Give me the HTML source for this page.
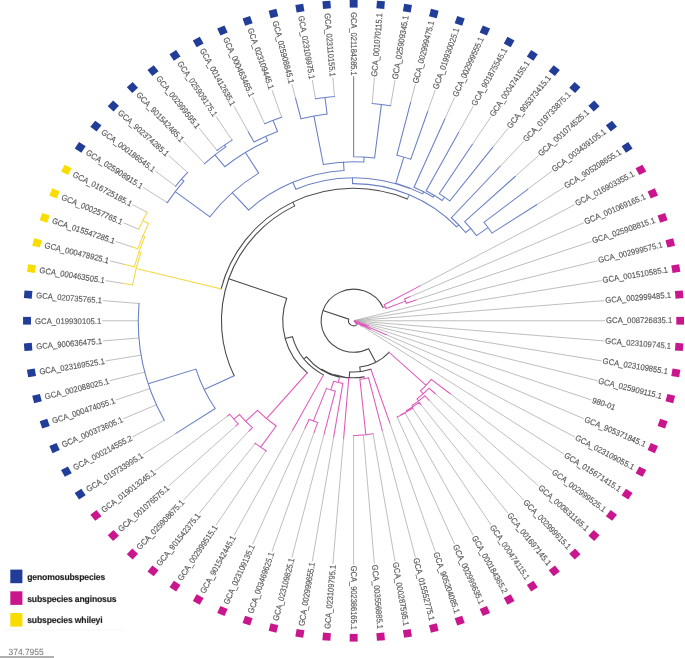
<!DOCTYPE html>
<html><head><meta charset="utf-8"><style>
html,body{margin:0;padding:0;background:#fff;}
body{width:685px;height:658px;overflow:hidden;}
svg{display:block;}
.lab text{font-family:"Liberation Sans",Arial,sans-serif;font-size:8.2px;fill:#585858;stroke:#585858;stroke-width:0.15px;dominant-baseline:central;text-rendering:geometricPrecision;}
.leg{font-family:"Liberation Sans",Arial,sans-serif;font-weight:bold;font-size:8.9px;fill:#1e1e1e;stroke:#1e1e1e;stroke-width:0.15px;letter-spacing:-0.15px;text-rendering:geometricPrecision;}
.sc{font-family:"Liberation Sans",Arial,sans-serif;font-size:9.0px;fill:#707070;text-rendering:geometricPrecision;}
</style></head><body>
<svg width="685" height="658" viewBox="0 0 685 658">
<defs><filter id="bl" x="-5%" y="-5%" width="110%" height="110%"><feGaussianBlur stdDeviation="0.45"/></filter></defs>
<rect width="685" height="658" fill="#fff"/>
<g filter="url(#bl)">
<g class="lab">
<g transform="translate(353.65,320.75) scale(1.0304,1)">
<path d="M0.97,-0.25L236.53,-59.90M0.99,-0.16L240.67,-40.16M1.00,-0.08L243.17,-20.15M1.00,0.00L244.00,0.00M1.00,0.08L243.17,20.15M0.99,0.16L240.67,40.16M5.82,1.47L236.53,59.90M14.19,4.87L230.78,79.23M31.69,13.90L223.45,98.01M15.83,8.57L214.59,116.13M8.37,5.47L204.27,133.46M93.75,72.97L192.55,149.87M79.02,72.74L179.52,165.26M73.15,79.46L165.26,179.52M65.41,84.04L149.87,192.55M57.54,88.07L133.46,204.27M50.07,92.52L116.13,214.59M42.26,96.34L98.01,223.45M35.07,102.15L79.23,230.78M27.81,109.83L59.90,236.53M18.85,112.94L40.16,240.67M9.47,114.31L20.15,243.17M0.00,114.70L0.00,244.00M-9.74,117.60L-20.15,243.17M-19.42,116.39L-40.16,240.67M-28.62,113.03L-59.90,236.53M-38.31,111.61L-79.23,230.78M-47.20,107.60L-98.01,223.45M-59.26,109.49L-116.13,214.59M-85.32,130.60L-133.46,204.27M-95.82,123.11L-149.87,192.55M-101.59,110.36L-165.26,179.52M-114.04,104.98L-179.52,165.26M-122.32,95.20L-192.55,149.87M-172.46,112.67L-204.27,133.46M-183.81,99.47L-214.59,116.13M-191.40,83.95L-223.45,98.01M-197.68,67.86L-230.78,79.23M-202.60,51.31L-236.53,59.90M-206.15,34.40L-240.67,40.16M-208.29,17.26L-243.17,20.15M-209.00,0.00L-244.00,0.00M-208.29,-17.26L-243.17,-20.15M-222.92,-37.20L-240.67,-40.16M-222.96,-56.46L-236.53,-59.90M-214.70,-73.71L-230.78,-79.23M-208.80,-91.59L-223.45,-98.01M-200.52,-108.52L-214.59,-116.13M-181.25,-118.41L-204.27,-133.46M-172.82,-134.51L-192.55,-149.87M-161.12,-148.32L-179.52,-165.26M-144.67,-157.15L-165.26,-179.52M-132.55,-170.30L-149.87,-192.55M-118.03,-180.66L-133.46,-204.27M-102.04,-188.56L-116.13,-214.59M-86.40,-196.98L-98.01,-223.45M-69.84,-203.45L-79.23,-230.78M-56.34,-222.48L-59.90,-236.53M-37.03,-221.93L-40.16,-240.67M-18.58,-224.23L-20.15,-243.17M-0.00,-244.00L-0.00,-244.00M18.00,-217.26L20.15,-243.17M35.88,-215.03L40.16,-240.67M55.23,-218.12L59.90,-236.53M71.76,-209.03L79.23,-230.78M88.37,-201.47L98.01,-223.45M101.85,-188.21L116.13,-214.59M115.13,-176.22L133.46,-204.27M134.94,-173.37L149.87,-192.55M142.23,-154.50L165.26,-179.52M156.71,-144.26L179.52,-165.26M168.88,-131.44L192.55,-149.87M177.48,-115.95L204.27,-133.46M64.47,-34.89L214.59,-116.13M54.49,-23.90L223.45,-98.01M60.25,-20.68L230.78,-79.23" stroke="#a6a6a6" stroke-width="0.72" fill="none"/>
<path d="M3.23,3.82A5.00,5.00 0 0 1 -4.73,-1.62M-4.73,-1.62L-29.81,-10.19M14.49,27.97A31.50,31.50 0 1 1 28.58,-13.25M14.49,27.97L21.48,41.47M34.40,31.58A46.70,46.70 0 0 1 5.95,46.32M5.95,46.32L6.53,50.88M16.66,48.52A51.30,51.30 0 0 1 -3.86,51.15M-3.86,51.15L-4.29,56.84M9.96,56.12A57.00,57.00 0 0 1 -18.27,53.99M-18.27,53.99L-18.43,54.47M-4.75,57.30A57.50,57.50 0 0 1 -31.03,48.41M-31.03,48.41L-31.41,49.00M-13.70,56.56A58.20,58.20 0 0 1 -45.67,36.07M-45.67,36.07L-48.26,38.12M-29.27,54.09A61.50,61.50 0 0 1 -59.40,15.94M-59.40,15.94L-66.45,17.83M-45.01,52.04A68.80,68.80 0 0 1 -65.01,-22.51M-65.01,-22.51L-121.24,-41.98M-115.95,54.92A128.30,128.30 0 0 1 -57.17,-114.86M-57.17,-114.86L-59.04,-118.62M-128.61,-31.86A132.50,132.50 0 0 1 52.13,-121.82" stroke="#484848" stroke-width="1.05" fill="none" stroke-linecap="square"/>
<path d="M-115.95,54.92L-145.05,68.70M-134.37,87.79A160.50,160.50 0 0 1 -153.05,48.33M-134.37,87.79L-172.46,112.67M-153.05,48.33L-199.30,62.94M-183.81,99.47A209.00,209.00 0 0 1 -208.29,-17.26M-183.81,99.47L-183.81,99.47M-191.40,83.95L-191.40,83.95M-197.68,67.86L-197.68,67.86M-202.60,51.31L-202.60,51.31M-206.15,34.40L-206.15,34.40M-208.29,17.26L-208.29,17.26M-209.00,0.00L-209.00,0.00M-208.29,-17.26L-208.29,-17.26M52.13,-121.82L53.93,-126.05M-1.06,-137.10A137.10,137.10 0 0 1 99.90,-93.89M-1.06,-137.10L-1.11,-143.00M-56.09,-131.54A143.00,143.00 0 0 1 54.04,-132.40M-56.09,-131.54L-59.03,-138.44M-101.93,-110.73A150.50,150.50 0 0 1 -9.33,-150.21M-101.93,-110.73L-117.85,-128.02M-139.49,-104.01A174.00,174.00 0 0 1 -92.14,-147.60M-139.49,-104.01L-173.16,-129.12M-180.83,-118.14A216.00,216.00 0 0 1 -164.83,-139.60M-180.83,-118.14L-181.25,-118.41M-164.83,-139.60L-167.12,-141.54M-172.82,-134.51A219.00,219.00 0 0 1 -161.12,-148.32M-172.82,-134.51L-172.82,-134.51M-161.12,-148.32L-161.12,-148.32M-92.14,-147.60L-105.06,-168.30M-125.07,-154.01A198.40,198.40 0 0 1 -83.43,-180.00M-125.07,-154.01L-134.65,-165.81M-144.67,-157.15A213.60,213.60 0 0 1 -124.12,-173.84M-144.67,-157.15L-144.67,-157.15M-124.12,-173.84L-125.40,-175.63M-132.55,-170.30A215.80,215.80 0 0 1 -118.03,-180.66M-132.55,-170.30L-132.55,-170.30M-118.03,-180.66L-118.03,-180.66M-83.43,-180.00L-85.45,-184.36M-96.71,-178.71A203.20,203.20 0 0 1 -73.86,-189.30M-96.71,-178.71L-102.04,-188.56M-73.86,-189.30L-78.19,-200.39M-86.40,-196.98A215.10,215.10 0 0 1 -69.84,-203.45M-86.40,-196.98L-86.40,-196.98M-69.84,-203.45L-69.84,-203.45M-9.33,-150.21L-9.85,-158.69M-29.41,-156.26A159.00,159.00 0 0 1 9.85,-158.69M-29.41,-156.26L-38.52,-204.71M-51.13,-201.93A208.30,208.30 0 0 1 -25.77,-206.70M-51.13,-201.93L-56.34,-222.48M-25.77,-206.70L-27.83,-223.27M-37.03,-221.93A225.00,225.00 0 0 1 -18.58,-224.23M-37.03,-221.93L-37.03,-221.93M-18.58,-224.23L-18.58,-224.23M9.85,-158.69L10.16,-163.68M-0.00,-164.00A164.00,164.00 0 0 1 20.29,-162.74M-0.00,-164.00L-0.00,-244.00M20.29,-162.74L26.96,-216.33M18.00,-217.26A218.00,218.00 0 0 1 35.88,-215.03M18.00,-217.26L18.00,-217.26M35.88,-215.03L35.88,-215.03M54.04,-132.40L54.23,-132.86M40.95,-137.53A143.50,143.50 0 0 1 66.99,-126.90M40.95,-137.53L48.74,-163.70M41.93,-165.57A170.80,170.80 0 0 1 55.46,-161.55M41.93,-165.57L55.23,-218.12M55.46,-161.55L71.76,-209.03M66.99,-126.90L68.06,-128.94M58.57,-133.52A145.80,145.80 0 0 1 77.21,-123.68M58.57,-133.52L88.37,-201.47M77.21,-123.68L78.26,-125.38M70.35,-129.99A147.80,147.80 0 0 1 85.88,-120.29M70.35,-129.99L101.85,-188.21M85.88,-120.29L88.21,-123.54M83.03,-127.08A151.80,151.80 0 0 1 93.24,-119.79M83.03,-127.08L115.13,-176.22M93.24,-119.79L134.94,-173.37M99.90,-93.89L102.02,-95.88M94.82,-103.00A140.00,140.00 0 0 1 108.68,-88.25M94.82,-103.00L142.23,-154.50M108.68,-88.25L113.72,-92.35M107.78,-99.22A146.50,146.50 0 0 1 119.23,-85.13M107.78,-99.22L156.71,-144.26M119.23,-85.13L130.46,-93.15M126.50,-98.46A160.30,160.30 0 0 1 134.20,-87.68M126.50,-98.46L168.88,-131.44M134.20,-87.68L177.48,-115.95" stroke="#6a80c6" stroke-width="1.05" fill="none" stroke-linecap="square"/>
<path d="M3.23,3.82L0.52,0.61M0.78,-0.20L0.97,-0.25M0.79,-0.13L0.99,-0.16M0.80,-0.07L1.00,-0.08M0.80,0.00L1.00,0.00M0.80,0.07L1.00,0.08M0.79,0.13L0.99,0.16M0.78,0.20L5.82,1.47M0.76,0.26L14.19,4.87M0.73,0.32L31.69,13.90M0.70,0.38L15.83,8.57M0.67,0.44L8.37,5.47M34.40,31.58L70.35,64.59M75.36,58.66A95.50,95.50 0 0 1 64.86,70.09M75.36,58.66L93.75,72.97M64.86,70.09L67.58,73.03M73.20,67.39A99.50,99.50 0 0 1 61.52,78.20M73.20,67.39L79.02,72.74M61.52,78.20L63.06,80.17M69.08,75.04A102.00,102.00 0 0 1 56.67,84.81M69.08,75.04L73.15,79.46M56.67,84.81L57.50,86.06M63.57,81.68A103.50,103.50 0 0 1 51.13,89.99M63.57,81.68L65.41,84.04M51.13,89.99L51.63,90.86M57.16,87.48A104.50,104.50 0 0 1 45.90,93.88M57.16,87.48L57.54,88.07M45.90,93.88L46.12,94.33M49.97,92.34A105.00,105.00 0 0 1 42.18,96.16M49.97,92.34L50.07,92.52M42.18,96.16L42.26,96.34M16.66,48.52L35.07,102.15M9.96,56.12L10.26,57.80M14.41,56.90A58.70,58.70 0 0 1 6.06,58.39M14.41,56.90L27.81,109.83M6.06,58.39L11.81,113.89M18.85,112.94A114.50,114.50 0 0 1 4.73,114.40M18.85,112.94L18.85,112.94M4.73,114.40L4.74,114.60M9.47,114.31A114.70,114.70 0 0 1 0.00,114.70M9.47,114.31L9.47,114.31M0.00,114.70L0.00,114.70M-4.75,57.30L-9.74,117.60M-13.70,56.56L-14.95,61.71M-10.45,62.63A63.50,63.50 0 0 1 -19.37,60.47M-10.45,62.63L-19.42,116.39M-19.37,60.47L-22.15,69.14M-17.82,70.38A72.60,72.60 0 0 1 -26.39,67.63M-17.82,70.38L-28.62,113.03M-26.39,67.63L-39.08,100.15M-34.91,101.68A107.50,107.50 0 0 1 -43.18,98.45M-34.91,101.68L-38.31,111.61M-43.18,98.45L-47.20,107.60M-29.27,54.09L-59.26,109.49M-45.01,52.04L-84.58,97.80M-75.13,105.23A129.30,129.30 0 0 1 -93.30,89.52M-75.13,105.23L-90.24,126.39M-84.94,130.01A155.30,155.30 0 0 1 -95.39,122.55M-84.94,130.01L-85.32,130.60M-95.39,122.55L-95.82,123.11M-93.30,89.52L-104.77,100.53M-98.34,106.83A145.20,145.20 0 0 1 -110.80,93.84M-98.34,106.83L-101.59,110.36M-110.80,93.84L-116.22,98.43M-112.05,103.15A152.30,152.30 0 0 1 -120.19,93.54M-112.05,103.15L-114.04,104.98M-120.19,93.54L-122.32,95.20M28.58,-13.25L30.58,-14.17M29.64,-16.04A33.70,33.70 0 0 1 31.39,-12.25M29.64,-16.04L64.47,-34.89M31.39,-12.25L50.31,-19.63M49.45,-21.69A54.00,54.00 0 0 1 51.07,-17.53M49.45,-21.69L54.49,-23.90M51.07,-17.53L60.25,-20.68" stroke="#de5cbc" stroke-width="1.05" fill="none" stroke-linecap="square"/>
<path d="M-128.61,-31.86L-211.12,-52.30M-214.53,-35.80A217.50,217.50 0 0 1 -206.43,-68.49M-214.53,-35.80L-222.92,-37.20M-206.43,-68.49L-208.33,-69.12M-212.78,-53.88A219.50,219.50 0 0 1 -202.79,-84.00M-212.78,-53.88L-222.96,-56.46M-202.79,-84.00L-204.64,-84.76M-209.50,-71.92A221.50,221.50 0 0 1 -198.99,-97.28M-209.50,-71.92L-214.70,-73.71M-198.99,-97.28L-204.65,-100.05M-208.61,-91.51A227.80,227.80 0 0 1 -200.34,-108.42M-208.61,-91.51L-208.80,-91.59M-200.34,-108.42L-200.52,-108.52" stroke="#f3da4a" stroke-width="1.05" fill="none" stroke-linecap="square"/>
<text transform="rotate(90.000) translate(-245.0,0.4) scale(0.915,1)" text-anchor="end">GCA_021184285.1</text>
<text transform="rotate(-85.263) translate(245.0,0.0) scale(0.915,1)">GCA_001070115.1</text>
<text transform="rotate(-80.526) translate(245.0,0.0) scale(0.915,1)">GCA_025909345.1</text>
<text transform="rotate(-75.789) translate(245.0,0.0) scale(0.915,1)">GCA_002999475.1</text>
<text transform="rotate(-71.053) translate(245.0,0.0) scale(0.915,1)">GCA_019930025.1</text>
<text transform="rotate(-66.316) translate(245.0,0.0) scale(0.915,1)">GCA_002999555.1</text>
<text transform="rotate(-61.579) translate(245.0,0.0) scale(0.915,1)">GCA_901875545.1</text>
<text transform="rotate(-56.842) translate(245.0,0.0) scale(0.915,1)">GCA_000474155.1</text>
<text transform="rotate(-52.105) translate(245.0,0.0) scale(0.915,1)">GCA_905373415.1</text>
<text transform="rotate(-47.368) translate(245.0,0.0) scale(0.915,1)">GCA_019733875.1</text>
<text transform="rotate(-42.632) translate(245.0,0.0) scale(0.915,1)">GCA_001074525.1</text>
<text transform="rotate(-37.895) translate(245.0,0.0) scale(0.915,1)">GCA_003439105.1</text>
<text transform="rotate(-33.158) translate(245.0,0.0) scale(0.915,1)">GCA_905208655.1</text>
<text transform="rotate(-28.421) translate(245.0,0.0) scale(0.915,1)">GCA_016903355.1</text>
<text transform="rotate(-23.684) translate(245.0,0.0) scale(0.915,1)">GCA_001069165.1</text>
<text transform="rotate(-18.947) translate(245.0,0.0) scale(0.915,1)">GCA_025908815.1</text>
<text transform="rotate(-14.211) translate(245.0,0.0) scale(0.915,1)">GCA_002999575.1</text>
<text transform="rotate(-9.474) translate(245.0,0.0) scale(0.915,1)">GCA_001510585.1</text>
<text transform="rotate(-4.737) translate(245.0,0.0) scale(0.915,1)">GCA_002999485.1</text>
<text transform="rotate(0.000) translate(245.0,0.0) scale(0.915,1)">GCA_008726835.1</text>
<text transform="rotate(4.737) translate(245.0,0.0) scale(0.915,1)">GCA_023109745.1</text>
<text transform="rotate(9.474) translate(245.0,0.0) scale(0.915,1)">GCA_023109855.1</text>
<text transform="rotate(14.211) translate(245.0,0.0) scale(0.915,1)">GCA_025909115.1</text>
<text transform="rotate(18.947) translate(245.0,0.0) scale(0.915,1)">980-01</text>
<text transform="rotate(23.684) translate(245.0,0.0) scale(0.915,1)">GCA_905371845.1</text>
<text transform="rotate(28.421) translate(245.0,0.0) scale(0.915,1)">GCA_023109055.1</text>
<text transform="rotate(33.158) translate(245.0,0.0) scale(0.915,1)">GCA_015671415.1</text>
<text transform="rotate(37.895) translate(245.0,0.0) scale(0.915,1)">GCA_002999525.1</text>
<text transform="rotate(42.632) translate(245.0,0.0) scale(0.915,1)">GCA_000831165.1</text>
<text transform="rotate(47.368) translate(245.0,0.0) scale(0.915,1)">GCA_002999615.1</text>
<text transform="rotate(52.105) translate(245.0,0.0) scale(0.915,1)">GCA_001697145.1</text>
<text transform="rotate(56.842) translate(245.0,0.0) scale(0.915,1)">GCA_000474115.1</text>
<text transform="rotate(61.579) translate(245.0,0.0) scale(0.915,1)">GCA_000184365.2</text>
<text transform="rotate(66.316) translate(245.0,0.0) scale(0.915,1)">GCA_002999635.1</text>
<text transform="rotate(71.053) translate(245.0,0.0) scale(0.915,1)">GCA_905204085.1</text>
<text transform="rotate(75.789) translate(245.0,0.0) scale(0.915,1)">GCA_015552775.1</text>
<text transform="rotate(80.526) translate(245.0,0.0) scale(0.915,1)">GCA_000287595.1</text>
<text transform="rotate(85.263) translate(245.0,0.0) scale(0.915,1)">GCA_003556885.1</text>
<text transform="rotate(90.000) translate(245.0,0.0) scale(0.915,1)">GCA_902386165.1</text>
<text transform="rotate(274.737) translate(-245.0,0.4) scale(0.915,1)" text-anchor="end">GCA_023109795.1</text>
<text transform="rotate(279.474) translate(-245.0,0.4) scale(0.915,1)" text-anchor="end">GCA_002999655.1</text>
<text transform="rotate(284.211) translate(-245.0,0.4) scale(0.915,1)" text-anchor="end">GCA_023109825.1</text>
<text transform="rotate(288.947) translate(-245.0,0.4) scale(0.915,1)" text-anchor="end">GCA_003469625.1</text>
<text transform="rotate(293.684) translate(-245.0,0.4) scale(0.915,1)" text-anchor="end">GCA_023109135.1</text>
<text transform="rotate(298.421) translate(-245.0,0.4) scale(0.915,1)" text-anchor="end">GCA_901542445.1</text>
<text transform="rotate(303.158) translate(-245.0,0.4) scale(0.915,1)" text-anchor="end">GCA_002999515.1</text>
<text transform="rotate(307.895) translate(-245.0,0.4) scale(0.915,1)" text-anchor="end">GCA_901542375.1</text>
<text transform="rotate(312.632) translate(-245.0,0.4) scale(0.915,1)" text-anchor="end">GCA_025908675.1</text>
<text transform="rotate(317.368) translate(-245.0,0.4) scale(0.915,1)" text-anchor="end">GCA_001076575.1</text>
<text transform="rotate(322.105) translate(-245.0,0.4) scale(0.915,1)" text-anchor="end">GCA_019013245.1</text>
<text transform="rotate(326.842) translate(-245.0,0.4) scale(0.915,1)" text-anchor="end">GCA_019733995.1</text>
<text transform="rotate(331.579) translate(-245.0,0.4) scale(0.915,1)" text-anchor="end">GCA_000214555.2</text>
<text transform="rotate(336.316) translate(-245.0,0.4) scale(0.915,1)" text-anchor="end">GCA_000373605.1</text>
<text transform="rotate(341.053) translate(-245.0,0.4) scale(0.915,1)" text-anchor="end">GCA_000474055.1</text>
<text transform="rotate(345.789) translate(-245.0,0.4) scale(0.915,1)" text-anchor="end">GCA_002088025.1</text>
<text transform="rotate(350.526) translate(-245.0,0.4) scale(0.915,1)" text-anchor="end">GCA_023169525.1</text>
<text transform="rotate(355.263) translate(-245.0,0.4) scale(0.915,1)" text-anchor="end">GCA_900636475.1</text>
<text transform="rotate(360.000) translate(-245.0,0.4) scale(0.915,1)" text-anchor="end">GCA_019930105.1</text>
<text transform="rotate(364.737) translate(-245.0,0.4) scale(0.915,1)" text-anchor="end">GCA_020735765.1</text>
<text transform="rotate(369.474) translate(-245.0,0.4) scale(0.915,1)" text-anchor="end">GCA_000463505.1</text>
<text transform="rotate(374.211) translate(-245.0,0.4) scale(0.915,1)" text-anchor="end">GCA_000478925.1</text>
<text transform="rotate(378.947) translate(-245.0,0.4) scale(0.915,1)" text-anchor="end">GCA_015547285.1</text>
<text transform="rotate(383.684) translate(-245.0,0.4) scale(0.915,1)" text-anchor="end">GCA_000257765.1</text>
<text transform="rotate(388.421) translate(-245.0,0.4) scale(0.915,1)" text-anchor="end">GCA_016725185.1</text>
<text transform="rotate(393.158) translate(-245.0,0.4) scale(0.915,1)" text-anchor="end">GCA_025908915.1</text>
<text transform="rotate(397.895) translate(-245.0,0.4) scale(0.915,1)" text-anchor="end">GCA_000186545.1</text>
<text transform="rotate(402.632) translate(-245.0,0.4) scale(0.915,1)" text-anchor="end">GCA_902374285.1</text>
<text transform="rotate(407.368) translate(-245.0,0.4) scale(0.915,1)" text-anchor="end">GCA_901542485.1</text>
<text transform="rotate(412.105) translate(-245.0,0.4) scale(0.915,1)" text-anchor="end">GCA_002999595.1</text>
<text transform="rotate(416.842) translate(-245.0,0.4) scale(0.915,1)" text-anchor="end">GCA_025909175.1</text>
<text transform="rotate(421.579) translate(-245.0,0.4) scale(0.915,1)" text-anchor="end">GCA_001412635.1</text>
<text transform="rotate(426.316) translate(-245.0,0.4) scale(0.915,1)" text-anchor="end">GCA_000463465.1</text>
<text transform="rotate(431.053) translate(-245.0,0.4) scale(0.915,1)" text-anchor="end">GCA_023109445.1</text>
<text transform="rotate(435.789) translate(-245.0,0.4) scale(0.915,1)" text-anchor="end">GCA_025908845.1</text>
<text transform="rotate(440.526) translate(-245.0,0.4) scale(0.915,1)" text-anchor="end">GCA_023109975.1</text>
<text transform="rotate(445.263) translate(-245.0,0.4) scale(0.915,1)" text-anchor="end">GCA_023110155.1</text>
<rect transform="rotate(-90.000)" x="313.15" y="-3.85" width="7.7" height="7.7" fill="#213e98"/>
<rect transform="rotate(-85.263)" x="313.15" y="-3.85" width="7.7" height="7.7" fill="#213e98"/>
<rect transform="rotate(-80.526)" x="313.15" y="-3.85" width="7.7" height="7.7" fill="#213e98"/>
<rect transform="rotate(-75.789)" x="313.15" y="-3.85" width="7.7" height="7.7" fill="#213e98"/>
<rect transform="rotate(-71.053)" x="313.15" y="-3.85" width="7.7" height="7.7" fill="#213e98"/>
<rect transform="rotate(-66.316)" x="313.15" y="-3.85" width="7.7" height="7.7" fill="#213e98"/>
<rect transform="rotate(-61.579)" x="313.15" y="-3.85" width="7.7" height="7.7" fill="#213e98"/>
<rect transform="rotate(-56.842)" x="313.15" y="-3.85" width="7.7" height="7.7" fill="#213e98"/>
<rect transform="rotate(-52.105)" x="313.15" y="-3.85" width="7.7" height="7.7" fill="#213e98"/>
<rect transform="rotate(-47.368)" x="313.15" y="-3.85" width="7.7" height="7.7" fill="#213e98"/>
<rect transform="rotate(-42.632)" x="313.15" y="-3.85" width="7.7" height="7.7" fill="#213e98"/>
<rect transform="rotate(-37.895)" x="313.15" y="-3.85" width="7.7" height="7.7" fill="#213e98"/>
<rect transform="rotate(-33.158)" x="313.15" y="-3.85" width="7.7" height="7.7" fill="#213e98"/>
<rect transform="rotate(-28.421)" x="313.15" y="-3.85" width="7.7" height="7.7" fill="#c9178d"/>
<rect transform="rotate(-23.684)" x="313.15" y="-3.85" width="7.7" height="7.7" fill="#c9178d"/>
<rect transform="rotate(-18.947)" x="313.15" y="-3.85" width="7.7" height="7.7" fill="#c9178d"/>
<rect transform="rotate(-14.211)" x="313.15" y="-3.85" width="7.7" height="7.7" fill="#c9178d"/>
<rect transform="rotate(-9.474)" x="313.15" y="-3.85" width="7.7" height="7.7" fill="#c9178d"/>
<rect transform="rotate(-4.737)" x="313.15" y="-3.85" width="7.7" height="7.7" fill="#c9178d"/>
<rect transform="rotate(0.000)" x="313.15" y="-3.85" width="7.7" height="7.7" fill="#c9178d"/>
<rect transform="rotate(4.737)" x="313.15" y="-3.85" width="7.7" height="7.7" fill="#c9178d"/>
<rect transform="rotate(9.474)" x="313.15" y="-3.85" width="7.7" height="7.7" fill="#c9178d"/>
<rect transform="rotate(14.211)" x="313.15" y="-3.85" width="7.7" height="7.7" fill="#c9178d"/>
<rect transform="rotate(18.947)" x="313.15" y="-3.85" width="7.7" height="7.7" fill="#c9178d"/>
<rect transform="rotate(23.684)" x="313.15" y="-3.85" width="7.7" height="7.7" fill="#c9178d"/>
<rect transform="rotate(28.421)" x="313.15" y="-3.85" width="7.7" height="7.7" fill="#c9178d"/>
<rect transform="rotate(33.158)" x="313.15" y="-3.85" width="7.7" height="7.7" fill="#c9178d"/>
<rect transform="rotate(37.895)" x="313.15" y="-3.85" width="7.7" height="7.7" fill="#c9178d"/>
<rect transform="rotate(42.632)" x="313.15" y="-3.85" width="7.7" height="7.7" fill="#c9178d"/>
<rect transform="rotate(47.368)" x="313.15" y="-3.85" width="7.7" height="7.7" fill="#c9178d"/>
<rect transform="rotate(52.105)" x="313.15" y="-3.85" width="7.7" height="7.7" fill="#c9178d"/>
<rect transform="rotate(56.842)" x="313.15" y="-3.85" width="7.7" height="7.7" fill="#c9178d"/>
<rect transform="rotate(61.579)" x="313.15" y="-3.85" width="7.7" height="7.7" fill="#c9178d"/>
<rect transform="rotate(66.316)" x="313.15" y="-3.85" width="7.7" height="7.7" fill="#c9178d"/>
<rect transform="rotate(71.053)" x="313.15" y="-3.85" width="7.7" height="7.7" fill="#c9178d"/>
<rect transform="rotate(75.789)" x="313.15" y="-3.85" width="7.7" height="7.7" fill="#c9178d"/>
<rect transform="rotate(80.526)" x="313.15" y="-3.85" width="7.7" height="7.7" fill="#c9178d"/>
<rect transform="rotate(85.263)" x="313.15" y="-3.85" width="7.7" height="7.7" fill="#c9178d"/>
<rect transform="rotate(90.000)" x="313.15" y="-3.85" width="7.7" height="7.7" fill="#c9178d"/>
<rect transform="rotate(94.737)" x="313.15" y="-3.85" width="7.7" height="7.7" fill="#c9178d"/>
<rect transform="rotate(99.474)" x="313.15" y="-3.85" width="7.7" height="7.7" fill="#c9178d"/>
<rect transform="rotate(104.211)" x="313.15" y="-3.85" width="7.7" height="7.7" fill="#c9178d"/>
<rect transform="rotate(108.947)" x="313.15" y="-3.85" width="7.7" height="7.7" fill="#c9178d"/>
<rect transform="rotate(113.684)" x="313.15" y="-3.85" width="7.7" height="7.7" fill="#c9178d"/>
<rect transform="rotate(118.421)" x="313.15" y="-3.85" width="7.7" height="7.7" fill="#c9178d"/>
<rect transform="rotate(123.158)" x="313.15" y="-3.85" width="7.7" height="7.7" fill="#c9178d"/>
<rect transform="rotate(127.895)" x="313.15" y="-3.85" width="7.7" height="7.7" fill="#c9178d"/>
<rect transform="rotate(132.632)" x="313.15" y="-3.85" width="7.7" height="7.7" fill="#c9178d"/>
<rect transform="rotate(137.368)" x="313.15" y="-3.85" width="7.7" height="7.7" fill="#c9178d"/>
<rect transform="rotate(142.105)" x="313.15" y="-3.85" width="7.7" height="7.7" fill="#c9178d"/>
<rect transform="rotate(146.842)" x="313.15" y="-3.85" width="7.7" height="7.7" fill="#213e98"/>
<rect transform="rotate(151.579)" x="313.15" y="-3.85" width="7.7" height="7.7" fill="#213e98"/>
<rect transform="rotate(156.316)" x="313.15" y="-3.85" width="7.7" height="7.7" fill="#213e98"/>
<rect transform="rotate(161.053)" x="313.15" y="-3.85" width="7.7" height="7.7" fill="#213e98"/>
<rect transform="rotate(165.789)" x="313.15" y="-3.85" width="7.7" height="7.7" fill="#213e98"/>
<rect transform="rotate(170.526)" x="313.15" y="-3.85" width="7.7" height="7.7" fill="#213e98"/>
<rect transform="rotate(175.263)" x="313.15" y="-3.85" width="7.7" height="7.7" fill="#213e98"/>
<rect transform="rotate(180.000)" x="313.15" y="-3.85" width="7.7" height="7.7" fill="#213e98"/>
<rect transform="rotate(184.737)" x="313.15" y="-3.85" width="7.7" height="7.7" fill="#213e98"/>
<rect transform="rotate(189.474)" x="313.15" y="-3.85" width="7.7" height="7.7" fill="#f9dd05"/>
<rect transform="rotate(194.211)" x="313.15" y="-3.85" width="7.7" height="7.7" fill="#f9dd05"/>
<rect transform="rotate(198.947)" x="313.15" y="-3.85" width="7.7" height="7.7" fill="#f9dd05"/>
<rect transform="rotate(203.684)" x="313.15" y="-3.85" width="7.7" height="7.7" fill="#f9dd05"/>
<rect transform="rotate(208.421)" x="313.15" y="-3.85" width="7.7" height="7.7" fill="#f9dd05"/>
<rect transform="rotate(213.158)" x="313.15" y="-3.85" width="7.7" height="7.7" fill="#213e98"/>
<rect transform="rotate(217.895)" x="313.15" y="-3.85" width="7.7" height="7.7" fill="#213e98"/>
<rect transform="rotate(222.632)" x="313.15" y="-3.85" width="7.7" height="7.7" fill="#213e98"/>
<rect transform="rotate(227.368)" x="313.15" y="-3.85" width="7.7" height="7.7" fill="#213e98"/>
<rect transform="rotate(232.105)" x="313.15" y="-3.85" width="7.7" height="7.7" fill="#213e98"/>
<rect transform="rotate(236.842)" x="313.15" y="-3.85" width="7.7" height="7.7" fill="#213e98"/>
<rect transform="rotate(241.579)" x="313.15" y="-3.85" width="7.7" height="7.7" fill="#213e98"/>
<rect transform="rotate(246.316)" x="313.15" y="-3.85" width="7.7" height="7.7" fill="#213e98"/>
<rect transform="rotate(251.053)" x="313.15" y="-3.85" width="7.7" height="7.7" fill="#213e98"/>
<rect transform="rotate(255.789)" x="313.15" y="-3.85" width="7.7" height="7.7" fill="#213e98"/>
<rect transform="rotate(260.526)" x="313.15" y="-3.85" width="7.7" height="7.7" fill="#213e98"/>
<rect transform="rotate(265.263)" x="313.15" y="-3.85" width="7.7" height="7.7" fill="#213e98"/>
</g>
</g>
<g transform="scale(1.0304,1)">
<rect x="10.00" y="569.6" width="11.74" height="13.6" fill="#213e98"/>
<rect x="10.00" y="591.3" width="11.74" height="13.6" fill="#c9178d"/>
<rect x="10.00" y="613.0" width="11.74" height="13.6" fill="#f9dd05"/>
<text class="leg" transform="translate(26.40,580.3) scale(0.94,1)">genomosubspecies</text>
<text class="leg" transform="translate(26.40,601.8) scale(0.94,1)">subspecies anginosus</text>
<text class="leg" transform="translate(26.40,623.1) scale(0.94,1)">subspecies whileyi</text>
<rect x="3" y="629.6" width="116.46" height="0.8" fill="#f5f5f5"/>
<text class="sc" transform="translate(8.35,654.7) scale(0.905,1)">374.7955</text>
<rect x="0" y="656" width="52.41" height="2" fill="#b0b0b0"/>
</g>
</g>
</svg>
</body></html>
